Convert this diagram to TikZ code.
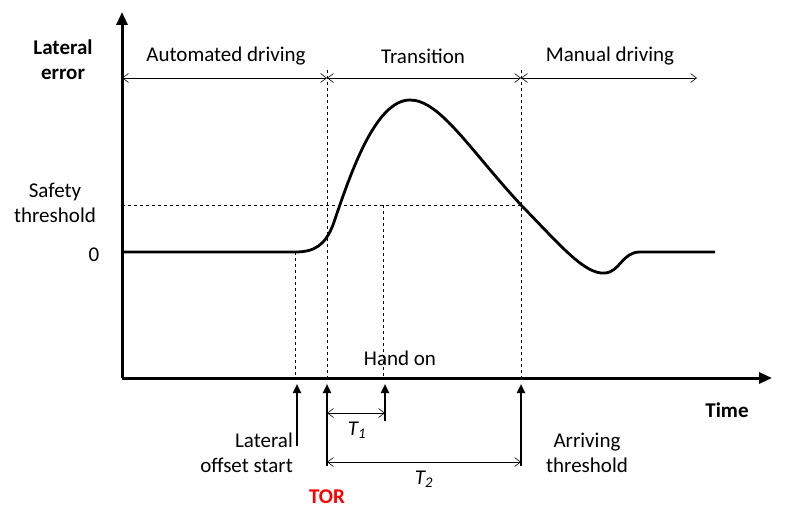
\documentclass[tikz,border=0pt]{standalone}
\usepackage{fontspec}
\setmainfont{Carlito}
\usetikzlibrary{arrows.meta}
\begin{document}
\begin{tikzpicture}[x=1pt,y=-1pt,
  lbl/.style={font=\fontsize{21}{25}\selectfont,inner sep=0pt},
  blbl/.style={font=\fontsize{21}{25}\selectfont\bfseries,inner sep=0pt},
  dsh/.style={dashed,line width=0.5pt},
  span/.style={{Straight Barb[length=6pt,width=9pt]}-{Straight Barb[length=6pt,width=9pt]},line width=0.6pt},
  upar/.style={-{Triangle[length=9pt,width=8pt]},line width=2.2pt}]
\useasboundingbox (0,0) rectangle (785,524);
\coordinate (O) at (122,378);
\coordinate (Ytop) at (122,12);
\coordinate (Xend) at (772,378);
\draw[line width=3pt,-{Triangle[length=13pt,width=11pt]}] (O) -- (Ytop);
\draw[line width=3pt,-{Triangle[length=13pt,width=11pt]}] (O) -- (Xend);
\node[blbl,align=center] (ylab) at (63,60) {Lateral\\error};
\node[lbl,align=center] (safe) at (55,203) {Safety\\threshold};
\node[lbl] (zero) at (94,255) {0};
\node[blbl] (time) at (727,410) {Time};
% dashed
\draw[dsh] (122,205) -- (521,205);
\draw[dsh] (295,252) -- (295,378);
\draw[dsh] (327,70) -- (327,378);
\draw[dsh] (383,205) -- (383,378);
\draw[dsh] (521,70) -- (521,378);
% curve
\draw[line width=2.8pt] (122,252) -- (295,252)
  .. controls (315,252) and (325,245) .. (333,225)
  .. controls (350,175) and (375,100) .. (410,100)
  .. controls (440,100) and (470,150) .. (521,205)
  .. controls (560,245) and (585,275) .. (605,273)
  .. controls (620,272) and (622,252) .. (640,252) -- (715,252);
% top spans
\coordinate (a1) at (122,78); \coordinate (a2) at (327,78);
\coordinate (a3) at (521,78); \coordinate (a4) at (697,78);
\draw[span] (a1) -- (a2);
\draw[span] (a2) -- (a3);
\draw[span] (a3) -- (a4);
\node[lbl] (auto) at (226,56) {Automated driving};
\node[lbl] (trans) at (423,56) {Transition};
\node[lbl] (man) at (610,56) {Manual driving};
\node[lbl] (hand) at (400,358) {Hand on};
% up arrows
\coordinate (u1) at (297,446); \coordinate (u1t) at (297,384);
\coordinate (u2) at (327,466); \coordinate (u2t) at (327,384);
\coordinate (u3) at (385,421); \coordinate (u3t) at (385,384);
\coordinate (u4) at (521,466); \coordinate (u4t) at (521,384);
\draw[upar] (u1) -- (u1t);
\draw[upar] (u2) -- (u2t);
\draw[upar] (u3) -- (u3t);
\draw[upar] (u4) -- (u4t);
% T spans
\coordinate (t1a) at (327,413); \coordinate (t1b) at (385,413);
\coordinate (t2a) at (327,462); \coordinate (t2b) at (521,462);
\draw[span] (t1a) -- (t1b);
\draw[span] (t2a) -- (t2b);
\node[lbl] (T1) at (357,430) {\textit{T\textsubscript{1}}};
\node[lbl] (T2) at (424,479) {\textit{T\textsubscript{2}}};
\node[lbl,align=right,anchor=east] (los) at (293,453) {Lateral\\offset start};
\node[blbl,text=red] (tor) at (327,497) {TOR};
\node[lbl,align=center] (arr) at (587,453) {Arriving\\threshold};
\end{tikzpicture}
\end{document}
